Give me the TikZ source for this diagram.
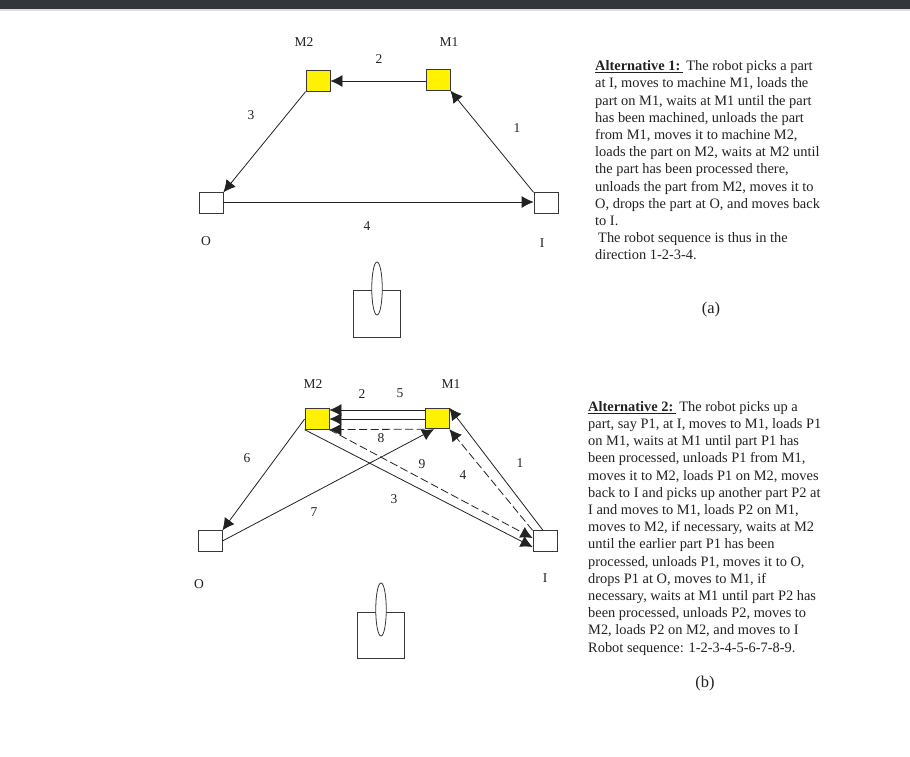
\documentclass[tikz,border=0pt]{standalone}
\usepackage{fontspec}
\setmainfont{Liberation Serif}
\usetikzlibrary{arrows.meta,shapes.geometric}
\definecolor{ink}{HTML}{222222}
\definecolor{barc}{HTML}{33373B}
\tikzset{
  box/.style={draw=ink!90,line width=.8pt,minimum width=24pt,minimum height=20.5pt,inner sep=0pt,fill=white,anchor=center},
  mach/.style={box,fill=yellow},
  lab/.style={font=\fontsize{13.5}{15}\selectfont,text=ink,inner sep=0pt},
  para/.style={font=\fontsize{14.4}{17.2}\selectfont,text=ink,align=left,anchor=north west,inner sep=0pt},
  captext/.style={font=\fontsize{16.5}{18}\selectfont,text=ink,inner sep=0pt},
  link/.style={draw=ink,line width=.8pt,-{Latex[length=12pt,width=12pt]}},
  dlink/.style={link,dash pattern=on 8pt off 3.5pt},
  body/.style={draw=ink!90,line width=.8pt},
}
\begin{document}
\begin{tikzpicture}[x=1pt,y=-1pt]
\useasboundingbox (0,0) rectangle (910,756);
\fill[white] (0,0) rectangle (910,756);
\fill[black!12] (0,9) rectangle (910,11);
\fill[barc] (0,0) rectangle (910,9);

% --- (a)
\node[mach] (am2) at (318,81) {};
\node[mach] (am1) at (438,80) {};
\node[box] (ao) at (211,203) {};
\node[box] (ai) at (546,203) {};
\draw[link] ([yshift=-1pt]am1.west) -- (am2.east);
\draw[link] (ai.north west) -- (am1.south east);
\draw[link] (am2.south west) -- (ao.north east);
\draw[link] ([yshift=1pt]ao.east) -- ([yshift=1pt]ai.west);
\node[lab] (tam2) at (304,42) {M2};
\node[lab] (tam1) at (449,42) {M1};
\node[lab] (ta2) at (379,59) {2};
\node[lab] (ta3) at (251,115) {3};
\node[lab] (ta1) at (517,128) {1};
\node[lab] (ta4) at (367,226) {4};
\node[lab] (tao) at (206,241) {O};
\node[lab] (tai) at (542,243) {I};
\node[body,fill=white,minimum width=46.5pt,minimum height=46.5pt,inner sep=0pt] (arb) at (377,314) {};
\node[body,fill=white,ellipse,minimum width=10.5pt,minimum height=53pt,inner sep=0pt] (ael) at (377,288.5) {};
\node[para] (pa) at (595,60.5) {\underline{\textbf{Alternative 1:\,}} The robot picks a part\\
at I, moves to machine M1, loads the\\
part on M1, waits at M1 until the part\\
has been machined, unloads the part\\
from M1, moves it to machine M2,\\
loads the part on M2, waits at M2 until\\
the part has been processed there,\\
unloads the part from M2, moves it to\\
O, drops the part at O, and moves back\\
to I.\\
\hspace*{3pt}The robot sequence is thus in the\\
direction 1-2-3-4.};
\node[captext] (ca) at (711,310) {(a)};

% --- (b)
\node[mach] (bm2) at (317,419) {};
\node[mach] (bm1) at (437,418.5) {};
\node[box] (bo) at (210,541) {};
\node[box] (bi) at (545,541) {};
\draw[link] ([yshift=8.5pt]bm1.west) -- ([yshift=9pt]bm2.east);
\draw[link] ([yshift=-.5pt]bm1.west) -- (bm2.east);
\draw[dlink] (bm1.south west) -- (bm2.south east);
\draw[link] ([xshift=-2pt]bi.north) -- (bm1.north east);
\draw[dlink] (bi.north west) -- (bm1.south east);
\draw[link] (bm2.south west) -- ([yshift=-6pt]bi.west);
\draw[dlink] (bm2.south east) -- ([yshift=3pt]bi.west);
\draw[link] (bm2.west) -- (bo.north east);
\draw[link] (bo.east) -- ([xshift=-3pt]bm1.south);
\node[lab] (tbm2) at (313,384) {M2};
\node[lab] (tbm1) at (451,384) {M1};
\node[lab] (tb2) at (362,394) {2};
\node[lab] (tb5) at (400,393) {5};
\node[lab] (tb8) at (381,438) {8};
\node[lab] (tb9) at (422,464) {9};
\node[lab] (tb4) at (463,475) {4};
\node[lab] (tb1) at (520,463) {1};
\node[lab] (tb3) at (394,499) {3};
\node[lab] (tb7) at (314,512) {7};
\node[lab] (tb6) at (247,458) {6};
\node[lab] (tbo) at (199,584) {O};
\node[lab] (tbi) at (545,578) {I};
\node[body,fill=white,minimum width=46.5pt,minimum height=46.5pt,inner sep=0pt] (brb) at (381,635.5) {};
\node[body,fill=white,ellipse,minimum width=10.5pt,minimum height=53pt,inner sep=0pt] (bel) at (381,609.5) {};
\node[para] (pb) at (588,401) {\underline{\textbf{Alternative 2:\,}} The robot picks up a\\
part, say P1, at I, moves to M1, loads P1\\
on M1, waits at M1 until part P1 has\\
been processed, unloads P1 from M1,\\
moves it to M2, loads P1 on M2, moves\\
back to I and picks up another part P2 at\\
I and moves to M1, loads P2 on M1,\\
moves to M2, if necessary, waits at M2\\
until the earlier part P1 has been\\
processed, unloads P1, moves it to O,\\
drops P1 at O, moves to M1, if\\
necessary, waits at M1 until part P2 has\\
been processed, unloads P2, moves to\\
M2, loads P2 on M2, and moves to I\\
Robot sequence: 1-2-3-4-5-6-7-8-9.};
\node[captext] (cb) at (705,684) {(b)};
\end{tikzpicture}
\end{document}
